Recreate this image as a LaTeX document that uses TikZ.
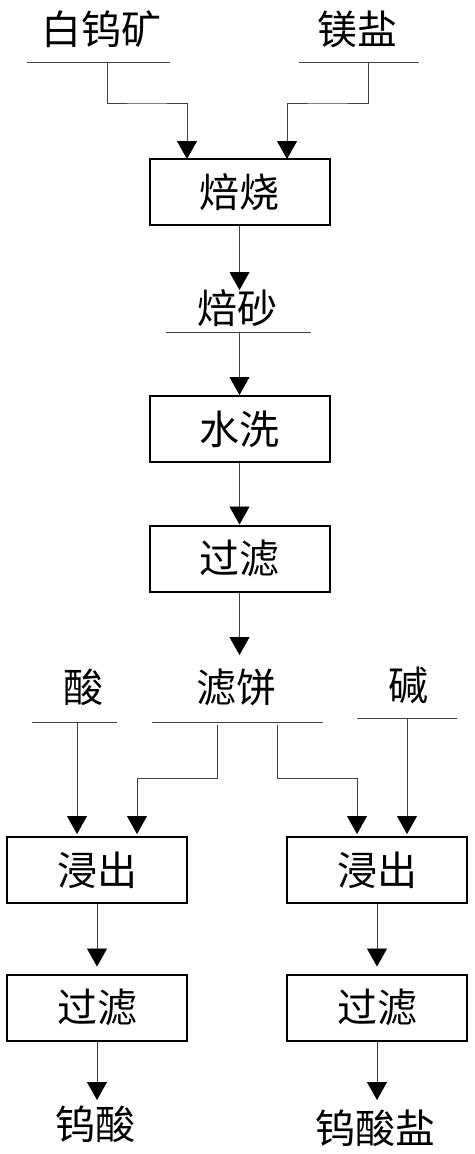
\documentclass[tikz,border=0pt]{standalone}
\usepackage{fontspec}
\newfontfamily\cjk{Noto Sans CJK SC}
\usetikzlibrary{arrows.meta}
\begin{document}
\begin{tikzpicture}[x=1pt,y=-1pt,
  lbl/.style={font=\cjk\fontsize{40}{42}\selectfont, inner sep=0pt},
  box/.style={draw, line width=2pt, minimum width=180pt, minimum height=66pt, inner sep=0pt, font=\cjk\fontsize{40}{42}\selectfont},
  ln/.style={line width=0.9pt, draw=black!75},
  arr/.style={ln, -{Triangle[width=20pt,length=18pt,color=black]}}]
\useasboundingbox (0,0) rectangle (474,1154);
% top inputs
\node[lbl] (baiwu) at (101,29) {白钨矿};
\node[lbl] (meiyan) at (357,29) {镁盐};
\coordinate (l1a) at (27,62); \coordinate (l1b) at (170,62);
\coordinate (l2a) at (299,62); \coordinate (l2b) at (419,62);
\draw[ln] (l1a) -- (l1b);
\draw[ln] (l2a) -- (l2b);
\node[box] (beishao) at (239.5,192) {焙烧};
\coordinate (s1) at (107,62); \coordinate (s2) at (368,62);
\coordinate (e1) at (187,159); \coordinate (e2) at (287,159);
\draw[arr] (s1) |- (147,103) -| (e1);
\draw[arr] (s2) |- (327,103) -| (e2);
% 焙砂
\node[lbl] (beisha) at (237,308) {焙砂};
\coordinate (l3a) at (166,332); \coordinate (l3b) at (311,332);
\draw[ln] (l3a) -- (l3b);
\coordinate (t1) at (239.5,290);
\draw[arr] (beishao.south) -- (t1);
\node[box] (shuixi) at (239.5,429) {水洗};
\draw[arr] (239.5,332) -- (shuixi.north);
\node[box] (guolv) at (239.5,558.5) {过滤};
\draw[arr] (shuixi.south) -- (guolv.north);
\coordinate (t2) at (239.5,655);
\draw[arr] (guolv.south) -- (t2);
% middle inputs
\node[lbl] (suan) at (83,687) {酸};
\node[lbl] (lvbing) at (236,687) {滤饼};
\node[lbl] (jian) at (408,685) {碱};
\coordinate (l4a) at (32,722); \coordinate (l4b) at (117,722);
\coordinate (l5a) at (152,722); \coordinate (l5b) at (323,722);
\coordinate (l6a) at (357,718); \coordinate (l6b) at (457,718);
\draw[ln] (l4a) -- (l4b);
\draw[ln] (l5a) -- (l5b);
\draw[ln] (l6a) -- (l6b);
\node[box] (jinL) at (97,870) {浸出};
\node[box] (jinR) at (377,870) {浸出};
\coordinate (a1) at (77,722); \coordinate (a1e) at (77,834);
\coordinate (b1) at (217,725); \coordinate (b1e) at (137,834);
\coordinate (b2) at (277,725); \coordinate (b2e) at (357,834);
\coordinate (c1) at (407,718); \coordinate (c1e) at (407,834);
\draw[arr] (a1) -- (a1e);
\draw[arr] (b1) |- (177,778) -| (b1e);
\draw[arr] (b2) |- (317,778) -| (b2e);
\draw[arr] (c1) -- (c1e);
% lower boxes
\node[box] (glL) at (97,1007.5) {过滤};
\node[box] (glR) at (377,1007.5) {过滤};
\draw[arr, shorten >=7pt] (jinL.south) -- (glL.north);
\draw[arr, shorten >=7pt] (jinR.south) -- (glR.north);
\node[lbl] (wusuan) at (95,1124) {钨酸};
\node[lbl] (wusuanyan) at (375,1128) {钨酸盐};
\coordinate (p1) at (97,1100); \coordinate (p2) at (377,1100);
\draw[arr] (glL.south) -- (p1);
\draw[arr] (glR.south) -- (p2);
\end{tikzpicture}
\end{document}
